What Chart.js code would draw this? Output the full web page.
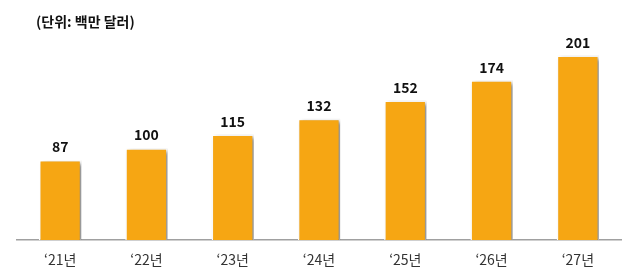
<!DOCTYPE html>
<html>
<head>
<meta charset="utf-8">
<script src="https://cdn.jsdelivr.net/npm/chart.js@4.4.0/dist/chart.umd.min.js"></script>
<style>
  html, body { margin: 0; padding: 0; background: #fff; }
  #wrap { width: 642px; height: 272px; }
</style>
</head>
<body>
<div id="wrap"><canvas id="chart" width="642" height="272"></canvas></div>
<script>
const years = ["\u201821\ub144", "\u201822\ub144", "\u201823\ub144", "\u201824\ub144", "\u201825\ub144", "\u201826\ub144", "\u201827\ub144"];
const sales = [87, 100, 115, 132, 152, 174, 201];
const unitLabel = "(\ub2e8\uc704: \ubc31\ub9cc \ub2ec\ub7ec)";

const FONT = "'Noto Sans CJK KR', 'Noto Sans', sans-serif";

// shadow behind the bars
const barShadow = {
  id: "barShadow",
  beforeDatasetDraw(chart) {
    const ctx = chart.ctx;
    ctx.save();
    ctx.shadowColor = "rgba(0,0,0,0.45)";
    ctx.shadowBlur = 4;
    ctx.shadowOffsetX = 3;
    ctx.shadowOffsetY = 2;
  },
  afterDatasetDraw(chart) {
    chart.ctx.restore();
  }
};

// value labels and unit text
const labels = {
  id: "labels",
  afterDraw(chart) {
    const ctx = chart.ctx;
    ctx.save();
    ctx.fillStyle = "#111";
    ctx.font = "bold 14px " + FONT;
    ctx.textAlign = "center";
    ctx.textBaseline = "bottom";
    chart.getDatasetMeta(0).data.forEach((bar, i) => {
      ctx.fillText(sales[i], bar.x, bar.y - 6);
    });
    ctx.textAlign = "left";
    ctx.textBaseline = "middle";
    ctx.font = "bold 14px " + FONT;
    ctx.fillText(unitLabel, 36, 22);
    ctx.restore();
  }
};

new Chart(document.getElementById("chart"), {
  type: "bar",
  data: {
    labels: years,
    datasets: [{
      data: sales,
      backgroundColor: "#F6A613",
      borderColor: "#ffffff",
      borderWidth: 1.5,
      categoryPercentage: 1,
      barPercentage: 0.49
    }]
  },
  options: {
    responsive: false,
    animation: false,
    layout: { padding: { left: 17, right: 21, top: 38, bottom: 0 } },
    plugins: { legend: { display: false }, tooltip: { enabled: false } },
    scales: {
      x: {
        grid: { display: false },
        border: { display: true, color: "#a0a0a0", width: 1.5 },
        ticks: { color: "#333", font: { family: FONT, size: 14 }, padding: 3 },
        afterFit(scale) { scale.height = 32; }
      },
      y: {
        display: false,
        min: 0,
        max: 220
      }
    }
  },
  plugins: [barShadow, labels]
});
</script>
</body>
</html>
